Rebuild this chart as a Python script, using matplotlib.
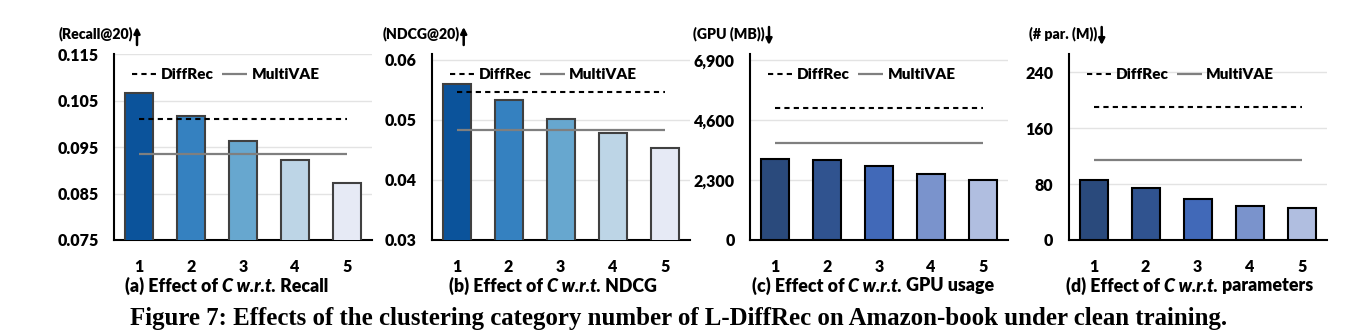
import matplotlib
matplotlib.use('Agg')
import matplotlib.pyplot as plt

plt.rcParams['font.family'] = ['Lato', 'DejaVu Sans']

# data
cats = [1, 2, 3, 4, 5]
recall = [0.1066, 0.1017, 0.0962, 0.0921, 0.0872]
ndcg = [0.0560, 0.0533, 0.0502, 0.0479, 0.0453]
gpu = [3090, 3080, 2830, 2520, 2300]
params = [86, 75, 58.5, 49, 46]
diffrec = [0.1010, 0.0546, 5070, 190]
multivae = [0.0935, 0.0484, 3710, 114]

ylabels = ['(Recall@20)', '(NDCG@20)', '(GPU (MB))', '(# par. (M))']
arrows_up = [True, True, False, False]
sub_heads = ['(a) Effect of ', '(b) Effect of ', '(c) Effect of ', '(d) Effect of ']
sub_tails = [' Recall', ' NDCG', ' GPU usage', ' parameters']
yticks = [[0.075, 0.085, 0.095, 0.105, 0.115],
          [0.03, 0.04, 0.05, 0.06],
          [0, 2300, 4600, 6900],
          [0, 80, 160, 240]]
yticklabels = [['0.075', '0.085', '0.095', '0.105', '0.115'],
               ['0.03', '0.04', '0.05', '0.06'],
               ['0', '2,300', '4,600', '6,900'],
               ['0', '80', '160', '240']]
ylims = [(0.075, 0.115), (0.03, 0.061), (0, 7130), (0, 266)]

blues = ['#0b539b', '#3581c0', '#67a7cf', '#bdd5e6', '#e6eaf5']
navy = ['#2a4a7c', '#30538f', '#4169b8', '#7a93cc', '#b0bee0']

WT = 'heavy'

W, H = 1357, 335
fig = plt.figure(figsize=(W / 100, H / 100), dpi=100)
renderer = fig.canvas.get_renderer()

lefts = [114, 431.7, 750, 1068.7]
aw, ah, abot = 258, 186, 240
lab_end = [19, 28, 15, 29]
sub_shift = [-16, -8, -6, -8]


def pieces(cx, cy, parts, size):
    # draw consecutive text parts, then centre the whole row on cx
    objs = []
    x = 0
    for s, style in parts:
        t = fig.text(0, cy, s, transform=None, ha='left', va='center',
                     fontsize=size, fontweight=WT, fontstyle=style)
        objs.append((t, x))
        x += t.get_window_extent(renderer).width
    x0 = cx - x / 2
    for t, off in objs:
        t.set_x(x0 + off)


series = [recall, ndcg, gpu, params]
for i in range(4):
    ax = fig.add_axes([lefts[i] / W, 1 - abot / H, aw / W, ah / H])
    cols = blues if i < 2 else navy
    edge = '#404040' if i < 2 else 'black'
    ax.bar(cats, series[i], width=0.54, color=cols, edgecolor=edge, linewidth=1.5, zorder=3)
    ax.hlines(diffrec[i], cats[0], cats[-1], colors='black', linestyles=(0, (2.5, 2)),
              linewidth=1.5, zorder=4, label='DiffRec')
    ax.hlines(multivae[i], cats[0], cats[-1], colors='#7f7f7f', linewidth=1.6,
              zorder=4, label='MultiVAE')
    ax.set_xlim(0.52, 5.48)
    ax.set_ylim(*ylims[i])
    ax.set_yticks(yticks[i])
    ax.set_yticklabels(yticklabels[i], fontsize=11.5, fontweight=WT)
    ax.set_xticks(cats)
    ax.set_xticklabels([str(c) for c in cats], fontsize=11.5, fontweight=WT)
    ax.tick_params(axis='both', length=0)
    ax.tick_params(axis='y', pad=11)
    ax.tick_params(axis='x', pad=14)
    ax.grid(axis='y', color='#e3e3e3', linewidth=1, zorder=0)
    for s in ['top', 'right']:
        ax.spines[s].set_visible(False)
    for s in ['left', 'bottom']:
        ax.spines[s].set_linewidth(1.5)
    ax.legend(loc='upper left', bbox_to_anchor=(0.07, 0.925), ncol=2, frameon=False,
              prop={'size': 11, 'weight': WT}, handlelength=1.6,
              handletextpad=0.3, columnspacing=0.55, borderpad=0, borderaxespad=0)

    # y label with arrow
    tx = lab_end[i] / aw
    ax.text(tx, (abot - 34) / ah, ylabels[i], transform=ax.transAxes,
            ha='right', va='center', fontsize=10.2, fontweight=WT)
    ax_x = tx + 4 / aw
    y_lo = (abot - 45) / ah
    y_hi = (abot - 27) / ah
    if arrows_up[i]:
        xy, xyt = (ax_x, y_hi), (ax_x, y_lo)
    else:
        xy, xyt = (ax_x, y_lo), (ax_x, y_hi)
    ax.annotate('', xy=xy, xytext=xyt, xycoords='axes fraction',
                textcoords='axes fraction', annotation_clip=False,
                arrowprops=dict(arrowstyle='-|>', color='black', lw=1.8,
                                mutation_scale=9, shrinkA=0, shrinkB=0))

    pieces(lefts[i] + aw / 2 + sub_shift[i], H - 286,
           [(sub_heads[i], 'normal'), ('C w.r.t.', 'italic'), (sub_tails[i], 'normal')], 12.8)

fig.text(679 / W, 1 - 318 / H,
         'Figure 7: Effects of the clustering category number of L-DiffRec on Amazon-book under clean training.',
         ha='center', va='center', fontsize=17.9, fontweight='bold', family='Liberation Serif')

fig.savefig('out.png', dpi=100)
